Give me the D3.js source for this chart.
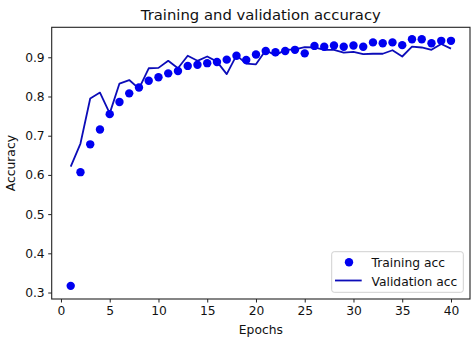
<!DOCTYPE html>
<html>
<head>
<meta charset="utf-8">
<script src="https://cdn.jsdelivr.net/npm/d3@7"></script>
<style>
  html, body { margin: 0; padding: 0; background: #fff; }
  svg { display: block; font-family: "DejaVu Sans", sans-serif; }
</style>
</head>
<body>
<svg id="chart" width="474" height="345"></svg>
<script>
const epochs = d3.range(1, 41);
const trainingAcc = [0.317, 0.607, 0.678, 0.716, 0.755, 0.786, 0.808, 0.823, 0.840, 0.849,
  0.859, 0.865, 0.878, 0.881, 0.885, 0.888, 0.894, 0.904, 0.893, 0.907,
  0.916, 0.913, 0.916, 0.919, 0.910, 0.929, 0.927, 0.930, 0.927, 0.930,
  0.927, 0.938, 0.936, 0.938, 0.931, 0.946, 0.946, 0.936, 0.942, 0.942];
const validationAcc = [0.621, 0.680, 0.795, 0.810, 0.757, 0.833, 0.842, 0.820, 0.872, 0.873,
  0.891, 0.872, 0.904, 0.891, 0.902, 0.889, 0.857, 0.905, 0.884, 0.882,
  0.918, 0.905, 0.919, 0.920, 0.926, 0.925, 0.919, 0.919, 0.912, 0.914,
  0.908, 0.909, 0.909, 0.918, 0.902, 0.927, 0.925, 0.919, 0.934, 0.922];
const xTicks = [0, 5, 10, 15, 20, 25, 30, 35, 40];
const yTicks = [0.3, 0.4, 0.5, 0.6, 0.7, 0.8, 0.9];
const title = "Training and validation accuracy";
const xLabel = "Epochs";
const yLabel = "Accuracy";
const legendLabels = ["Training acc", "Validation acc"];

const svg = d3.select("#chart");
const pLeft = 51.7, pRight = 470, pTop = 27.3, pBottom = 299;

const x = d3.scaleLinear().domain([-0.95, 41.95]).range([pLeft, pRight]);
const y = d3.scaleLinear().domain([0.2835, 0.9765]).range([pBottom, pTop]);

const markerColor = "#0000f0";
const lineColor = "#0c0cb8";
const fs = 12.3;

// axes
const xAxis = svg.append("g")
  .attr("transform", `translate(0,${pBottom})`)
  .call(d3.axisBottom(x).tickValues(xTicks).tickFormat(d3.format("d")).tickSize(3.5).tickPadding(3.5));
const yAxis = svg.append("g")
  .attr("transform", `translate(${pLeft},0)`)
  .call(d3.axisLeft(y).tickValues(yTicks).tickFormat(d3.format(".1f")).tickSize(3.5).tickPadding(3.5));
[xAxis, yAxis].forEach(g => {
  g.select(".domain").remove();
  g.selectAll("line").attr("stroke", "#222").attr("stroke-width", 1);
  g.selectAll("text").attr("font-size", fs).attr("font-family", "DejaVu Sans, sans-serif").attr("fill", "#111");
});

// frame
svg.append("rect")
  .attr("x", pLeft).attr("y", pTop)
  .attr("width", pRight - pLeft).attr("height", pBottom - pTop)
  .attr("fill", "none").attr("stroke", "#222").attr("stroke-width", 1.1);

// validation line
svg.append("path")
  .datum(epochs.map((e, i) => [e, validationAcc[i]]))
  .attr("fill", "none")
  .attr("stroke", lineColor)
  .attr("stroke-width", 1.8)
  .attr("stroke-linejoin", "round")
  .attr("d", d3.line().x(d => x(d[0])).y(d => y(d[1])));

// training points
svg.append("g").selectAll("circle")
  .data(epochs.map((e, i) => [e, trainingAcc[i]]))
  .join("circle")
  .attr("cx", d => x(d[0]))
  .attr("cy", d => y(d[1]))
  .attr("r", 4.2)
  .attr("fill", markerColor);

// title and labels
svg.append("text")
  .attr("x", (pLeft + pRight) / 2).attr("y", 19.5)
  .attr("text-anchor", "middle")
  .attr("font-size", 14.8).attr("fill", "#111")
  .text(title);
svg.append("text")
  .attr("x", (pLeft + pRight) / 2).attr("y", 333.5)
  .attr("text-anchor", "middle")
  .attr("font-size", fs).attr("fill", "#111")
  .text(xLabel);
svg.append("text")
  .attr("transform", `translate(14.5,${(pTop + pBottom) / 2}) rotate(-90)`)
  .attr("text-anchor", "middle")
  .attr("font-size", fs).attr("fill", "#111")
  .text(yLabel);

// legend
const lg = svg.append("g");
lg.append("rect")
  .attr("x", 331.7).attr("y", 251.7)
  .attr("width", 131.6).attr("height", 40.6)
  .attr("rx", 2.5)
  .attr("fill", "#fff").attr("fill-opacity", 0.85)
  .attr("stroke", "#d0d0d0").attr("stroke-width", 1);
lg.append("circle")
  .attr("cx", 349).attr("cy", 262.3).attr("r", 4.2).attr("fill", markerColor);
lg.append("line")
  .attr("x1", 335).attr("x2", 361.7).attr("y1", 280.5).attr("y2", 280.5)
  .attr("stroke", lineColor).attr("stroke-width", 1.8);
lg.selectAll("text.leg")
  .data(legendLabels)
  .join("text")
  .attr("class", "leg")
  .attr("x", 371.5)
  .attr("y", (d, i) => 266.8 + i * 19.2)
  .attr("font-size", fs).attr("fill", "#111")
  .text(d => d);
</script>
</body>
</html>
